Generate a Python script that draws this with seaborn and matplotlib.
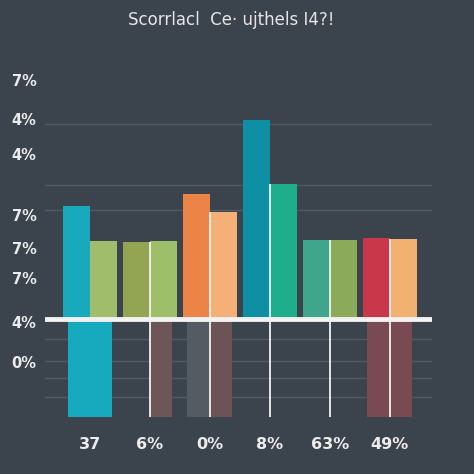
import numpy as np
import pandas as pd
import matplotlib
matplotlib.use("Agg")
import matplotlib.pyplot as plt
import seaborn as sns

# ---- data ----
title = "Scorrlacl  Ce\u00b7 ujthels I4?!"
groups = ["37", "6%", "0%", "8%", "63%", "49%"]

left_vals = [11.3, 7.7, 12.5, 19.9, 7.9, 8.1]
right_vals = [7.8, 7.8, 10.7, 13.5, 7.9, 8.0]
left_colors = ["#18a9bd", "#93a552", "#ec8448", "#0e8fa3", "#3fa58b", "#c9384a"]
right_colors = ["#9fbd6a", "#9ebf6a", "#f4b077", "#1fae8c", "#8bab5a", "#f2b170"]

low_left = [-9.8, 0, -9.8, 0, 0, -9.8]
low_right = [-9.8, -9.8, -9.8, 0, 0, -9.8]
low_left_colors = ["#17a9bd", "#3b434d", "#555b62", "#3b434d", "#3b434d", "#7a4a52"]
low_right_colors = ["#17a9bd", "#6c5658", "#6c5356", "#3b434d", "#3b434d", "#7a4a52"]

ytick_pos = [23.9, 20.0, 16.5, 10.4, 7.1, 4.1, -0.3, -4.3]
ytick_labels = ["7%", "4%", "4%", "7%", "7%", "7%", "4%", "0%"]
grid_pos = [19.5, 16.5, 13.4, 10.9, -2.0, -4.2, -5.9, -7.8]

bg = "#3b434d"

# ---- tables for seaborn ----
top = pd.DataFrame({
    "group": groups * 2,
    "side": ["a"] * 6 + ["b"] * 6,
    "value": left_vals + right_vals,
})
low = pd.DataFrame({
    "group": groups * 2,
    "side": ["a"] * 6 + ["b"] * 6,
    "value": low_left + low_right,
})

fig = plt.figure(figsize=(4.74, 4.74), dpi=100, facecolor=bg)
ax = fig.add_axes([0.095, 0.114, 0.816, 0.738], facecolor=bg)

# faint grid lines
ax.set_yticks(grid_pos, minor=True)
ax.grid(True, which="minor", axis="y", color="#525a64", lw=1)
ax.tick_params(which="minor", length=0)
ax.set_axisbelow(True)

sns.barplot(data=low, x="group", y="value", hue="side", width=0.75,
            errorbar=None, legend=False, ax=ax, linewidth=0)
sns.barplot(data=top, x="group", y="value", hue="side", width=0.9,
            errorbar=None, legend=False, ax=ax, linewidth=0)

# color each bar
for bar, c in zip(ax.containers[0], low_left_colors):
    bar.set_facecolor(c)
for bar, c in zip(ax.containers[1], low_right_colors):
    bar.set_facecolor(c)
for bar, c in zip(ax.containers[2], left_colors):
    bar.set_facecolor(c)
for bar, c in zip(ax.containers[3], right_colors):
    bar.set_facecolor(c)

# white dividers inside the pairs (not the first one)
for i in range(1, len(groups)):
    ax.vlines(i, -9.8, min(left_vals[i], right_vals[i]),
              color="#f2f2f2", lw=1.3, zorder=5)

# thick baseline
ax.axhline(0, color="#f2f2f2", lw=3.5, zorder=6)

ax.set_xlim(-0.75, 5.7)
ax.set_ylim(-10.1, 24.9)
ax.set_yticks(ytick_pos)
ax.set_yticklabels(ytick_labels)
ax.set_xlabel("")
ax.set_ylabel("")
ax.tick_params(axis="y", length=0, pad=6, labelsize=10.5, labelcolor="#ececec")
ax.tick_params(axis="x", length=0, pad=12, labelsize=11.5, labelcolor="#ececec")
for lab in ax.get_yticklabels() + ax.get_xticklabels():
    lab.set_fontweight("bold")
for s in ax.spines.values():
    s.set_visible(False)

fig.text(0.488, 0.957, title, ha="center", va="center", fontsize=12,
         color="#e6e6e6")

fig.savefig("out.png", dpi=100, facecolor=bg)
